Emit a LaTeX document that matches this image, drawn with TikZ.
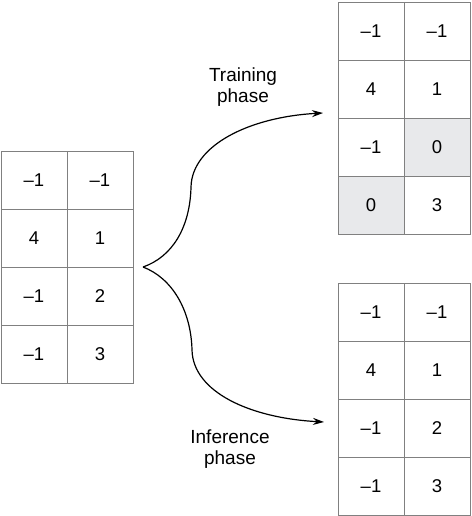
\documentclass[tikz,border=0pt]{standalone}
\usepackage{fontspec}
\setmainfont{Liberation Sans}
\usetikzlibrary{positioning}
\usetikzlibrary{arrows.meta}
\definecolor{gridgray}{RGB}{128,128,128}
\definecolor{cellfill}{RGB}{232,233,235}
\tikzstyle{cell} = [draw=gridgray, line width=0.9pt, minimum width=66pt, minimum height=58pt, outer sep=0pt, inner sep=0pt, font=\fontsize{18.5}{21}\selectfont]
\tikzstyle{zero} = [cell, fill=cellfill]
\tikzstyle{phase} = [thick, line width=1.2pt, -{Stealth[length=11pt, width=7pt]}]

\begin{document}
\begin{tikzpicture}[x=1pt, y=-1pt]
    \useasboundingbox (0,0) rectangle (471,516);

    % Input table
    \node[cell, anchor=north west] (L11) at (1,151) {–1};
    \node[cell, right=0pt of L11] (L12) {–1};
    \node[cell, below=0pt of L11] (L21) {4};
    \node[cell, below=0pt of L12] (L22) {1};
    \node[cell, below=0pt of L21] (L31) {–1};
    \node[cell, below=0pt of L22] (L32) {2};
    \node[cell, below=0pt of L31] (L41) {–1};
    \node[cell, below=0pt of L32] (L42) {3};

    % Training table (masked values)
    \node[cell, anchor=north west] (T11) at (338,2) {–1};
    \node[cell, right=0pt of T11] (T12) {–1};
    \node[cell, below=0pt of T11] (T21) {4};
    \node[cell, below=0pt of T12] (T22) {1};
    \node[cell, below=0pt of T21] (T31) {–1};
    \node[zero, below=0pt of T22] (T32) {0};
    \node[zero, below=0pt of T31] (T41) {0};
    \node[cell, below=0pt of T32] (T42) {3};

    % Inference table
    \node[cell, anchor=north west] (I11) at (338,283) {–1};
    \node[cell, right=0pt of I11] (I12) {–1};
    \node[cell, below=0pt of I11] (I21) {4};
    \node[cell, below=0pt of I12] (I22) {1};
    \node[cell, below=0pt of I21] (I31) {–1};
    \node[cell, below=0pt of I22] (I32) {2};
    \node[cell, below=0pt of I31] (I41) {–1};
    \node[cell, below=0pt of I32] (I42) {3};

    % Arrows
    \coordinate[right=10pt of L22.south east] (split);
    \coordinate (trainmid) at (191,187);
    \coordinate (trainend) at (323,113);
    \coordinate (infermid) at (192,350);
    \coordinate (inferend) at (324,422);
    \draw[phase] (split) .. controls (172,257) and (190,228) .. (trainmid)
        .. controls (192,145) and (250,117) .. (trainend);
    \draw[phase] (split) .. controls (172,278) and (191,310) .. (infermid)
        .. controls (193,392) and (250,418) .. (inferend);

    \node[align=center, font=\fontsize{19}{21}\selectfont] (trainlabel) at (243,87) {Training\\phase};
    \node[align=center, font=\fontsize{19}{21}\selectfont] (inferlabel) at (230,449) {Inference\\phase};
\end{tikzpicture}
\end{document}
